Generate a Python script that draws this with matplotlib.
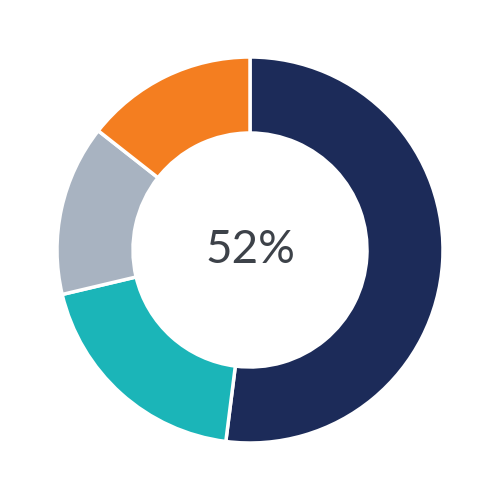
import matplotlib
matplotlib.use("Agg")
import matplotlib.pyplot as plt

# data, clockwise from the top
labels = ["Navy", "Teal", "Gray", "Orange"]
values = [52, 19.3, 14.3, 14.4]
colors = ["#1c2b59", "#1bb5b8", "#a8b3c1", "#f47e20"]
center_text = "52%"

fig = plt.figure(figsize=(5, 5), dpi=100)
ax = fig.add_axes([0, 0, 1, 1])

outer_r = 1.0
ring_w = 76 / 193

ax.pie(values, colors=colors, startangle=90, counterclock=False,
       radius=outer_r,
       wedgeprops=dict(width=ring_w, edgecolor="white", linewidth=2.5))

ax.text(0, 0, center_text, ha="center", va="center", fontsize=33,
        family=["Lato", "DejaVu Sans"], color="#3d4249")

lim = 250 / 193
ax.set_xlim(-lim, lim)
ax.set_ylim(-lim, lim)
ax.set_aspect("equal")
ax.axis("off")

fig.savefig("out.png", dpi=100, facecolor="white")
